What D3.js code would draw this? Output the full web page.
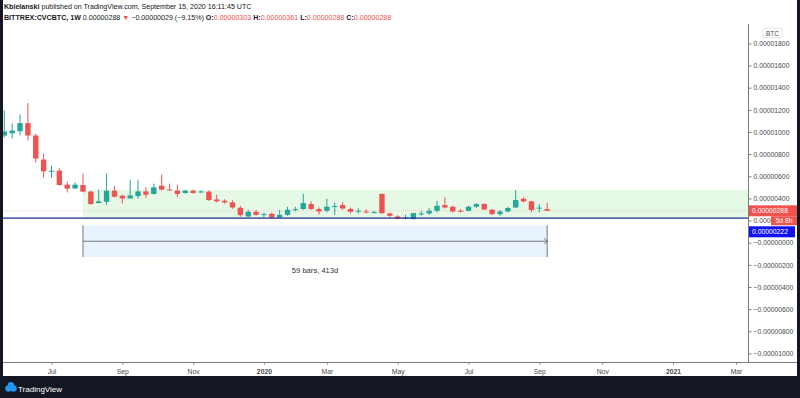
<!DOCTYPE html>
<html><head><meta charset="utf-8">
<script src="https://cdn.jsdelivr.net/npm/d3@7"></script>
<style>
html,body{margin:0;padding:0;background:#131722;}
svg{display:block;font-family:"Liberation Sans",Arial,sans-serif;}
</style></head><body>
<svg id="c" width="800" height="398"></svg>
<script>
// ---- data (prices in satoshi, 1e-8 BTC) ----
const firstWeek = "2019-05-20";
const openS  = [968,989,1007,1080,968,751,645,651,524,490,521,461,358,370,470,424,400,421,463,440,515,481,470,449,470,454,461,391,379,364,315,237,279,255,261,228,252,300,304,349,304,288,329,340,304,287,282,270,440,264,237,226,213,258,264,288,340,325,288,288,325,349,297,258,282,318,397,373,310,303];
const highS  = [1195,1077,1159,1261,986,805,696,672,551,545,624,470,479,626,515,433,569,569,500,533,615,533,524,479,479,470,470,433,393,383,334,297,295,273,270,295,325,325,442,373,318,397,364,364,318,309,304,288,445,273,249,252,270,288,313,379,409,334,304,334,358,358,304,295,325,476,409,379,349,361];
const lowS   = [950,941,968,923,723,587,587,515,454,485,454,343,355,343,409,354,398,397,406,433,470,470,415,442,442,450,379,364,352,306,234,228,243,228,216,225,243,282,297,295,252,273,252,297,264,264,264,264,258,234,213,211,209,243,252,273,309,273,273,282,313,295,249,243,273,313,364,273,273,288];
const closeS = [1004,1013,1080,968,760,645,650,521,488,524,461,349,373,470,415,400,427,463,433,500,479,472,440,470,449,463,385,373,364,318,249,279,252,258,228,252,297,303,358,304,282,325,331,309,279,289,273,277,267,243,218,228,267,264,288,334,318,282,279,325,349,300,258,282,313,385,373,295,317,288];
const yTicks = [1800,1600,1400,1200,1000,800,600,400,200,0,-200,-400,-600,-800,-1000];
const xTickDates = ["2019-07-01","2019-09-02","2019-11-04","2020-01-06","2020-03-02","2020-05-04","2020-07-06","2020-09-07","2020-11-02","2021-01-04","2021-03-01"];
const xTickLabels = ["Jul","Sep","Nov","2020","Mar","May","Jul","Sep","Nov","2021","Mar"];
const lastPrice = 288, linePrice = 222;
const rangeTop = 477, rangeStart = "2019-07-29";
const measureStart = "2019-07-29", measureEnd = "2020-09-14", measureTop = 156, measureBottom = -130;
const measureText = "59 bars, 413d";

const pd = d3.utcParse("%Y-%m-%d");
const dates = d3.utcMonday.range(pd(firstWeek), d3.utcDay.offset(pd(firstWeek), 7*openS.length));
const bars = dates.map((d,i)=>({d, o:openS[i], h:highS[i], l:lowS[i], c:closeS[i]}));

const svg = d3.select("#c");
const L=3, R=748, T=24, B=362;
const x = d3.scaleUtc().domain([pd("2019-07-01"), pd("2021-03-01")]).range([51.5, 736]);
const y = d3.scaleLinear().domain([-1000, 1800]).range([353.4, 43.4]);
const UP="#26a69a", DN="#ef5350";

// white panel
svg.append("rect").attr("x",3).attr("y",0).attr("width",794).attr("height",376).attr("fill","#fff");

// header
const h1 = svg.append("text").attr("x",4).attr("y",9).attr("font-size",7.1).attr("fill","#131722");
h1.append("tspan").attr("font-weight","bold").text("Kbielanski");
h1.append("tspan").text(" published on TradingView.com, September 15, 2020 16:11:45 UTC");
const h2 = svg.append("text").attr("x",4).attr("y",19.5).attr("font-size",7.1).attr("fill","#131722");
h2.append("tspan").attr("font-weight","bold").text("BITTREX:CVCBTC, 1W");
h2.append("tspan").text(" 0.00000288");
h2.append("tspan").attr("fill",DN).text(" \u25BC");
h2.append("tspan").text(" \u22120.00000029 (\u22129.15%)");
[["O:","0.00000303"],["H:","0.00000361"],["L:","0.00000288"],["C:","0.00000288"]].forEach(([k,v])=>{
  h2.append("tspan").attr("font-weight","bold").text(" "+k);
  h2.append("tspan").attr("fill",DN).text(v);
});

// plot frame
const plot = svg.append("g");
svg.append("clipPath").attr("id","pc").append("rect").attr("x",L).attr("y",T).attr("width",R-L).attr("height",B-T);
plot.attr("clip-path","url(#pc)");

// green range rectangle
plot.append("rect").attr("x",x(pd(rangeStart))).attr("y",y(rangeTop))
  .attr("width",R-x(pd(rangeStart))).attr("height",y(linePrice)-y(rangeTop))
  .attr("fill","#e6f9e6");

// measure tool
const mx1=x(pd(measureStart)), mx2=x(pd(measureEnd)), my1=y(measureTop), my2=y(measureBottom), mym=(my1+my2)/2;
plot.append("rect").attr("x",mx1).attr("y",my1).attr("width",mx2-mx1).attr("height",my2-my1).attr("fill","#e8f3fd");
[mx1,mx2].forEach(xx=>plot.append("line").attr("x1",xx).attr("x2",xx).attr("y1",my1).attr("y2",my2).attr("stroke","#555").attr("stroke-width",0.8));
plot.append("line").attr("x1",mx1).attr("x2",mx2).attr("y1",mym).attr("y2",mym).attr("stroke","#555").attr("stroke-width",0.8);
plot.append("path").attr("d",`M${mx2-3},${mym-3}L${mx2},${mym}L${mx2-3},${mym+3}`).attr("fill","none").attr("stroke","#555").attr("stroke-width",0.8);
svg.append("text").attr("x",(mx1+mx2)/2).attr("y",my2+16).attr("text-anchor","middle").attr("font-size",7.6).attr("fill","#333").text(measureText);

// last price line (faint dotted)
plot.append("line").attr("x1",L).attr("x2",R).attr("y1",y(lastPrice)).attr("y2",y(lastPrice))
  .attr("stroke","#f3b3b1").attr("stroke-width",0.7).attr("stroke-dasharray","1,1");

// candles
const bw = 5.4;
const cg = plot.append("g");
cg.selectAll("line.w").data(bars).join("line")
  .attr("x1",d=>x(d.d)).attr("x2",d=>x(d.d)).attr("y1",d=>y(d.h)).attr("y2",d=>y(d.l))
  .attr("stroke",d=>d.c>=d.o?UP:DN).attr("stroke-width",1);
cg.selectAll("rect.b").data(bars).join("rect")
  .attr("x",d=>x(d.d)-bw/2).attr("width",bw)
  .attr("y",d=>y(Math.max(d.o,d.c)))
  .attr("height",d=>Math.max(1,Math.abs(y(d.o)-y(d.c))))
  .attr("fill",d=>d.c>=d.o?UP:DN);

// horizontal blue line
plot.append("line").attr("x1",L).attr("x2",R).attr("y1",y(linePrice)).attr("y2",y(linePrice))
  .attr("stroke","#1e2a8a").attr("stroke-width",1.4);

// right axis
svg.append("line").attr("x1",R+0.5).attr("x2",R+0.5).attr("y1",T).attr("y2",B).attr("stroke","#787b86").attr("stroke-width",1);
const fmt = v => (v<=0? "\u2212":"") + (Math.abs(v)*1e-8).toFixed(8);
// clip in the tick's local coordinates (tick origin = axis line)
svg.append("clipPath").attr("id","tc").append("rect").attr("x",0).attr("y",-10).attr("width",771-(R+0.5)).attr("height",20);
const ya = svg.append("g").attr("transform",`translate(${R+0.5},0)`)
  .call(d3.axisRight(y).tickValues(yTicks).tickSize(3).tickPadding(2).tickFormat(fmt));
ya.select(".domain").remove();
ya.selectAll("line").attr("stroke","#787b86");
ya.selectAll("text").attr("font-size",6.8).attr("fill","#4a4a4a").attr("font-family","Liberation Sans, Arial, sans-serif");
// the 200 tick label is partly hidden behind the countdown box
ya.selectAll(".tick").filter(d=>d===200).select("text").attr("clip-path","url(#tc)");

// BTC unit label
svg.append("rect").attr("x",763).attr("y",28).attr("width",19).attr("height",10).attr("rx",2).attr("fill","#fff").attr("stroke","#d1d4dc").attr("stroke-width",0.6);
svg.append("text").attr("x",772.5).attr("y",35.5).attr("text-anchor","middle").attr("font-size",6.5).attr("fill","#4a4a4a").text("BTC");

// price labels
const yl = y(lastPrice);
svg.append("rect").attr("x",R+1).attr("y",yl-5.5).attr("width",48).attr("height",11).attr("fill",DN);
svg.append("text").attr("x",R+4).attr("y",yl+2.4).attr("font-size",6.8).attr("fill","#fff").text(fmt(lastPrice));
svg.append("rect").attr("x",771).attr("y",yl+5.5).attr("width",26).attr("height",9).attr("fill",DN);
svg.append("text").attr("x",784).attr("y",yl+12.3).attr("text-anchor","middle").attr("font-size",6.8).attr("fill","#fff").text("5d 8h");
const yb = yl+21;
svg.append("rect").attr("x",R+1).attr("y",yb-5.5).attr("width",46).attr("height",11).attr("fill","#1212f0");
svg.append("text").attr("x",R+4).attr("y",yb+2.4).attr("font-size",6.8).attr("fill","#fff").text(fmt(linePrice));

// bottom time axis
svg.append("line").attr("x1",3).attr("x2",797).attr("y1",B+0.5).attr("y2",B+0.5).attr("stroke","#787b86").attr("stroke-width",1);
const xa = svg.append("g").attr("transform",`translate(0,${B+0.5})`)
  .call(d3.axisBottom(x).tickValues(xTickDates.map(pd)).tickSize(2).tickPadding(5)
    .tickFormat((d,i)=>xTickLabels[i]));
xa.select(".domain").remove();
xa.selectAll("line").attr("stroke","#787b86");
xa.selectAll("text").attr("font-size",6.8).attr("fill","#4a4a4a").attr("font-family","Liberation Sans, Arial, sans-serif")
  .attr("font-weight",(d,i)=>/^\d{4}$/.test(xTickLabels[i])?"bold":"normal");

// TradingView logo
const lg = svg.append("g").attr("transform","translate(5,382)");
lg.append("circle").attr("cx",3.5).attr("cy",6.5).attr("r",3.2).attr("fill","#2196f3");
lg.append("circle").attr("cx",8.5).attr("cy",6.5).attr("r",3.2).attr("fill","#2196f3");
lg.append("circle").attr("cx",6).attr("cy",3.2).attr("r",3.2).attr("fill","#2196f3");
svg.append("text").attr("x",18).attr("y",391.5).attr("font-size",8).attr("fill","#fff").text("TradingView");
</script></body></html>
